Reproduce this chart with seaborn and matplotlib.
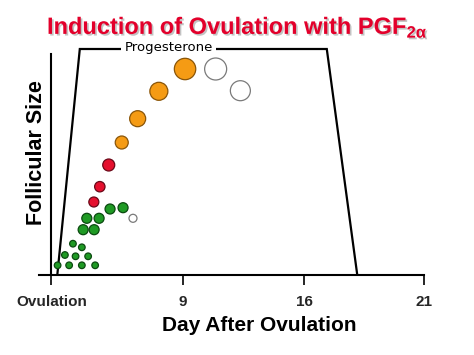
import numpy as np
import pandas as pd
import matplotlib
matplotlib.use("Agg")
import matplotlib.pyplot as plt
import matplotlib.patheffects as pe
import seaborn as sns

# ---- data ----
# follicle positions: day after ovulation, relative follicular size, marker radius (px), stage
follicle_day = [0.42, 1.21, 2.08, 2.99, 0.92, 1.65, 2.51, 1.47, 2.08,
                2.17, 2.92, 2.42, 3.26, 4.01, 4.90,
                5.58,
                2.90, 3.31, 3.92,
                4.81, 5.90, 7.35, 9.12,
                10.89, 12.32]
follicle_size = [0.97, 0.97, 0.97, 0.97, 2.0, 1.87, 1.87, 3.13, 2.77,
                 4.53, 4.53, 5.67, 5.67, 6.6, 6.73,
                 5.67,
                 7.3, 8.83, 11.0,
                 13.25, 15.63, 18.37, 20.6,
                 20.6, 18.43]
follicle_radius = [3.3, 3.3, 3.3, 3.3, 3.3, 3.3, 3.3, 3.3, 3.3,
                   5.0, 5.0, 5.0, 5.0, 5.0, 5.0,
                   4.0,
                   5.0, 5.2, 6.0,
                   6.5, 8.0, 9.0, 10.7,
                   11.0, 10.0]
follicle_stage = ["growing"] * 15 + ["regressing"] + ["selected"] * 3 + \
                 ["dominant"] * 4 + ["regressing"] * 2

progesterone_day = [0.4, 1.94, 16.95, 18.22]
progesterone_level = [0.0, 22.6, 22.6, 0.0]

tick_days = [0, 9, 16, 21]
tick_labels = ["Ovulation", "9", "16", "21"]
tick_pos_px = [0.0, 131.5, 252.5, 372.5]   # schematic (non-uniform) day axis

stage_fill = {"growing": "#1f9a24", "selected": "#e5102e",
              "dominant": "#f59b14", "regressing": "#ffffff"}
stage_edge = {"growing": "#0b4a10", "selected": "#6a0818",
              "dominant": "#8a5508", "regressing": "#7a7a7a"}

df = pd.DataFrame({"day": follicle_day, "size": follicle_size,
                   "radius": follicle_radius, "stage": follicle_stage})

# ---- styling ----
sns.set_theme(style="white")
plt.rcParams["font.family"] = ["Liberation Sans", "DejaVu Sans"]
plt.rcParams["mathtext.fontset"] = "custom"
plt.rcParams["mathtext.rm"] = "Liberation Sans:bold"
plt.rcParams["mathtext.it"] = "Liberation Sans:bold"
plt.rcParams["mathtext.bf"] = "Liberation Sans:bold"

fig = plt.figure(figsize=(4.74, 3.55), dpi=100)
ax = fig.add_axes([39 / 474, 80 / 355, 385 / 474, 235 / 355])

# piecewise-linear schematic day scale
kd = np.array([-20.0] + tick_days + [40.0])
slope0 = tick_pos_px[1] / tick_days[1]
slopeN = (tick_pos_px[-1] - tick_pos_px[-2]) / (tick_days[-1] - tick_days[-2])
kp = np.array([-20.0 * slope0] + tick_pos_px + [tick_pos_px[-1] + 19 * slopeN])


def fwd(x):
    return np.interp(x, kd, kp)


def inv(p):
    return np.interp(p, kp, kd)


ax.set_xscale("function", functions=(fwd, inv))

# progesterone profile
ax.plot(progesterone_day, progesterone_level, color="black", lw=1.6,
        solid_joinstyle="miter", zorder=2)
ax.text(8.01, 22.75, "Progesterone", ha="center", va="center",
        fontsize=9.5, family="DejaVu Sans", color="black",
        bbox=dict(facecolor="white", edgecolor="none", pad=2.5), zorder=3)

# follicles
for stage in ["growing", "selected", "dominant", "regressing"]:
    sub = df[df["stage"] == stage]
    sns.scatterplot(data=sub, x="day", y="size", ax=ax,
                    s=(1.44 * sub["radius"].to_numpy()) ** 2,
                    color=stage_fill[stage], edgecolor=stage_edge[stage],
                    linewidth=0.9, legend=False, zorder=4, clip_on=False)

ax.set_xlim(-0.852, 21)
ax.set_ylim(0, 23.5)
ax.set_xticks(tick_days)
ax.set_xticklabels(tick_labels, fontsize=11, fontweight="bold")
ax.set_yticks([])
ax.minorticks_off()
ax.tick_params(axis="x", direction="out", length=7.2, width=1.2,
               color="black", pad=7, bottom=True)
for side in ["top", "right"]:
    ax.spines[side].set_visible(False)
for side in ["left", "bottom"]:
    ax.spines[side].set_color("black")
    ax.spines[side].set_linewidth(1.5)
ax.spines["left"].set_position(("data", 0))
ax.spines["left"].set_bounds(0, 22.1)
ax.set_xlabel("")
ax.set_ylabel("")
ax.patch.set_alpha(0)

# texts
fig.text(0.501, 1 - 34 / 355, r"Induction of Ovulation with PGF$_{2\alpha}$",
         ha="center", va="baseline", fontsize=17, fontweight="bold",
         color="#e3002b",
         path_effects=[pe.withSimplePatchShadow(offset=(1.2, -1.2),
                                                shadow_rgbFace="#888888",
                                                alpha=0.5)])
fig.text(259 / 474, 1 - 331 / 355, "Day After Ovulation", ha="center",
         va="baseline", fontsize=15, fontweight="bold", color="black")
fig.text(36 / 474, 1 - 152.5 / 355, "Follicular Size", ha="center",
         va="center", rotation=90, fontsize=15.5, fontweight="bold",
         color="black")

fig.savefig("out.png", dpi=100)
